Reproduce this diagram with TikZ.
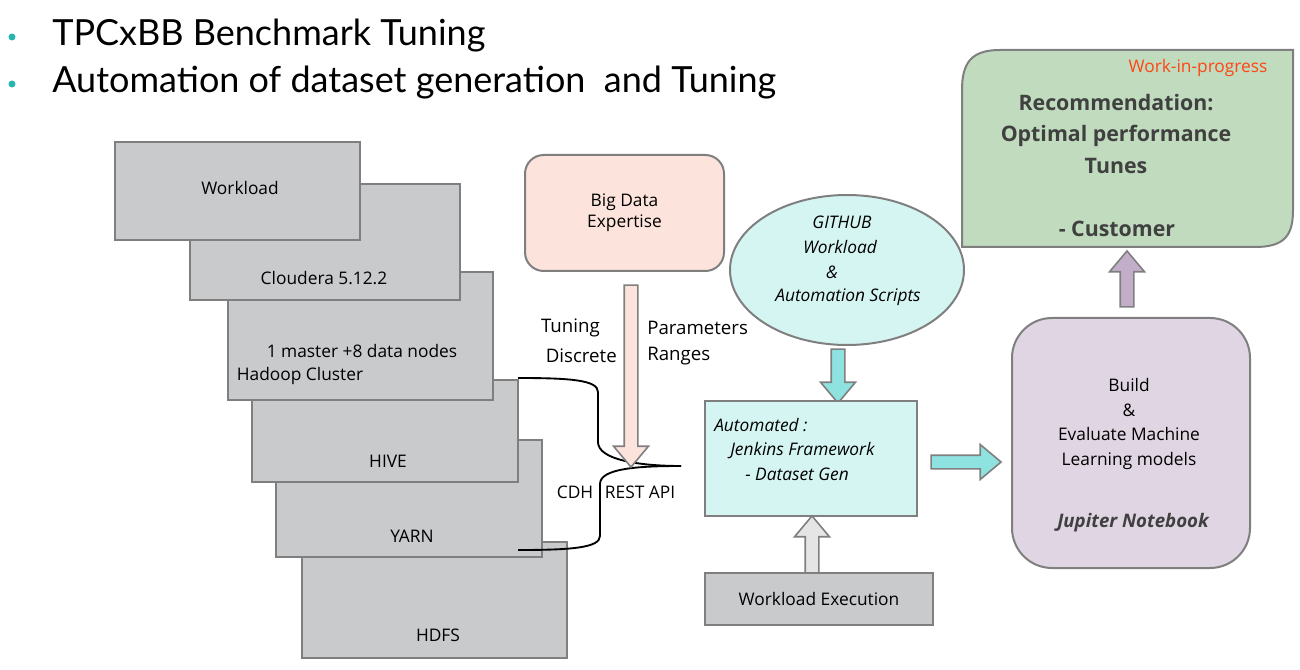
\documentclass[tikz,border=0pt]{standalone}
\usepackage{fontspec}
\setmainfont{Open Sans}
\newfontfamily\titlefont{Lato}
\usetikzlibrary{shapes.geometric,shapes.arrows}
\definecolor{boxgray}{HTML}{C8CACB}
\definecolor{edgegray}{HTML}{7F7F7F}
\definecolor{pinkfill}{HTML}{FCE4DC}
\definecolor{cyanfill}{HTML}{D5F5F3}
\definecolor{arrowcyan}{HTML}{8EE3E0}
\definecolor{purplefill}{HTML}{E0D5E3}
\definecolor{purplearrow}{HTML}{C3AEC9}
\definecolor{greenfill}{HTML}{C0DBBD}
\definecolor{teal}{HTML}{27B5B0}
\definecolor{wip}{HTML}{FF4515}
\definecolor{darktext}{HTML}{404040}
\begin{document}
\begin{tikzpicture}[x=0.75pt,y=-0.75pt,
  layer/.style={draw=edgegray,line width=2pt,fill=boxgray},
  lbl/.style={font=\fontsize{13}{15}\selectfont,inner sep=0pt},
  blk/.style={draw=edgegray,line width=1.5pt,align=center,font=\fontsize{13}{16}\selectfont},
  fatarrow/.style={single arrow,draw=edgegray,line width=1.2pt,minimum height=#1,
     single arrow head extend=8pt,single arrow tip angle=80,inner sep=4.5pt}]
\useasboundingbox (0,0) rectangle (1300,670);
% bullets
\fill[teal] (12,37) circle (3.5);
\fill[teal] (12,84) circle (3.5);
\node[anchor=west,font=\titlefont\fontsize{27}{29}\selectfont,inner sep=0pt] (t1) at (52,36) {TPCxBB Benchmark Tuning};
\node[anchor=west,font=\titlefont\fontsize{27}{29}\selectfont,inner sep=0pt] (t2) at (52,83) {Automation of dataset generation\ \ and Tuning};
% stacked layers (bottom first)
\draw[layer] (302,542) rectangle (567,658);
\node[lbl] (hdfs) at (438,635) {HDFS};
\draw[layer] (276,440) rectangle (542,557);
\node[lbl] (yarn) at (412,536) {YARN};
\draw[layer] (252,380) rectangle (518,482);
\node[lbl] (hive) at (388,461) {HIVE};
\draw[layer] (228,272) rectangle (493,400);
\node[lbl] (nodes) at (362,351) {1 master +8 data nodes};
\node[lbl] (hadoop) at (300,376) {Hadoop Cluster};
\draw[layer] (190,184) rectangle (460,300);
\node[lbl] (cloudera) at (324,278) {Cloudera 5.12.2};
\draw[layer] (115,142) rectangle (360,240);
\node[lbl] (workload) at (240,188) {Workload};
% brace
\coordinate (btop) at (518,378);
\coordinate (bbot) at (518,550);
\coordinate (btip) at (681,466);
\draw[line width=1.4pt] (btop) .. controls (570,378) and (598,380) .. (598,392)
  -- (598,442) .. controls (598,460) and (640,466) .. (btip);
\draw[line width=1.4pt] (btip) .. controls (640,466) and (600,468) .. (600,484)
  -- (600,536) .. controls (600,548) and (570,550) .. (bbot);
\node[lbl] (cdh) at (575,492) {CDH};
\node[lbl] (rest) at (640,492) {REST API};
% big data expertise
\node[blk,fill=pinkfill,rounded corners=14pt,minimum width=199*0.75pt,minimum height=116*0.75pt] (bde) at (624.5,213) {Big Data\\Expertise};
\node[fatarrow=182*0.75pt,fill=pinkfill,rotate=-90] (parr) at (631,372) {};
\node[anchor=east,font=\fontsize{14}{16}\selectfont,inner sep=0pt] (tun) at (600,328) {Tuning};
\node[anchor=east,font=\fontsize{14}{16}\selectfont,inner sep=0pt] (dis) at (617,356) {Discrete};
\node[anchor=west,font=\fontsize{14}{16}\selectfont,inner sep=0pt] (par) at (647,328) {Parameters};
\node[anchor=west,font=\fontsize{14}{16}\selectfont,inner sep=0pt] (ran) at (647,356) {Ranges};
% github ellipse
\node[ellipse,draw=edgegray,line width=1.5pt,fill=cyanfill,minimum width=234*0.75pt,minimum height=150*0.75pt] (gh) at (847,270) {};
\node[lbl,font=\itshape\fontsize{13}{15}\selectfont] (g1) at (842,222) {GITHUB};
\node[lbl,font=\itshape\fontsize{13}{15}\selectfont] (g2) at (840,247) {Workload};
\node[lbl,font=\itshape\fontsize{13}{15}\selectfont] (g3) at (832,272) {\&};
\node[lbl,font=\itshape\fontsize{13}{15}\selectfont] (g4) at (848,297) {Automation Scripts};
\node[fatarrow=54*0.75pt,fill=arrowcyan,rotate=-90] (carr) at (838,372) {};
% automated box
\node[draw=edgegray,line width=1.5pt,fill=cyanfill,minimum width=212*0.75pt,minimum height=115*0.75pt] (auto) at (811,458.5) {};
\node[lbl,anchor=west,font=\itshape\fontsize{13}{15}\selectfont] (a1) at (714,425) {Automated :};
\node[lbl,anchor=west,font=\itshape\fontsize{13}{15}\selectfont] (a2) at (730,451) {Jenkins Framework};
\node[lbl,anchor=west,font=\itshape\fontsize{13}{15}\selectfont] (a3) at (745,474) {- Dataset Gen};
\node[fatarrow=70*0.75pt,fill=edgegray!20,rotate=90] (garr) at (812,555) {};
\node[blk,fill=boxgray,minimum width=228*0.75pt,minimum height=52*0.75pt] (exec) at (819,599) {Workload Execution};
\node[fatarrow=70*0.75pt,fill=arrowcyan] (rarr) at (962,462) {};
% ML box
\node[draw=edgegray,line width=1.5pt,fill=purplefill,rounded corners=30pt,minimum width=238*0.75pt,minimum height=250*0.75pt] (ml) at (1131,443) {};
\node[lbl,align=center,font=\fontsize{13}{18.7}\selectfont] (mlt) at (1129,424) {Build\\\&\\Evaluate Machine\\Learning models};
\node[lbl,font=\bfseries\itshape\fontsize{14}{16}\selectfont,text=darktext] (jup) at (1133,523) {Jupiter Notebook};
\node[fatarrow=56*0.75pt,fill=purplearrow,rotate=90] (uarr) at (1127,283) {};
% recommendation box
\draw[draw=edgegray,line width=1.5pt,fill=greenfill]
  (1293,50) -- (1293,210) .. controls (1293,235) and (1285,247) .. (1255,247)
  -- (962,247) -- (962,90) .. controls (962,62) and (972,50) .. (1000,50) -- cycle;
\node[lbl,text=wip] (wipt) at (1198,68) {Work-in-progress};
\node[lbl,align=center,font=\bfseries\fontsize{16}{23.5}\selectfont,text=darktext] (rec) at (1116,134) {Recommendation:\\Optimal performance\\Tunes};
\node[lbl,font=\bfseries\fontsize{16}{18}\selectfont,text=darktext] (cust) at (1117,229) {- Customer};
\end{tikzpicture}
\end{document}
